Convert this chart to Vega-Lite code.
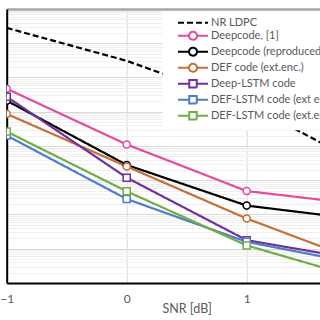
{
  "$schema": "https://vega.github.io/schema/vega-lite/v6.json",
  "autosize": {"type": "none"},
  "width": 313.3,
  "height": 274,
  "padding": {"left": 6.7, "top": 9, "right": 0, "bottom": 37},
  "background": "white",
  "config": {
    "view": {"stroke": null},
    "font": "Lato"
  },
  "data": {
    "values": [
      {"series": "NR LDPC", "snr": -1, "ber": 0.28},
      {"series": "NR LDPC", "snr": 0, "ber": 0.0307},
      {"series": "NR LDPC", "snr": 1, "ber": 0.00172},
      {"series": "NR LDPC", "snr": 2, "ber": 0.0000248},
      {"series": "Deepcode, [1]", "snr": -1, "ber": 0.00471},
      {"series": "Deepcode, [1]", "snr": 0, "ber": 0.000111},
      {"series": "Deepcode, [1]", "snr": 1, "ber": 0.00000484},
      {"series": "Deepcode, [1]", "snr": 2, "ber": 0.00000188},
      {"series": "Deepcode (reproduced)", "snr": -1, "ber": 0.00211},
      {"series": "Deepcode (reproduced)", "snr": 0, "ber": 0.000028},
      {"series": "Deepcode (reproduced)", "snr": 1, "ber": 0.00000182},
      {"series": "Deepcode (reproduced)", "snr": 2, "ber": 0.00000068},
      {"series": "DEF code (ext.enc.)", "snr": -1, "ber": 0.000865},
      {"series": "DEF code (ext.enc.)", "snr": 0, "ber": 0.0000253},
      {"series": "DEF code (ext.enc.)", "snr": 1, "ber": 0.000000762},
      {"series": "DEF code (ext.enc.)", "snr": 2, "ber": 0.0000000367},
      {"series": "Deep-LSTM code", "snr": -1, "ber": 0.00275},
      {"series": "Deep-LSTM code", "snr": 0, "ber": 0.0000119},
      {"series": "Deep-LSTM code", "snr": 1, "ber": 0.000000178},
      {"series": "Deep-LSTM code", "snr": 2, "ber": 0.0000000442},
      {"series": "DEF-LSTM code (ext enc.)", "snr": -1, "ber": 0.000202},
      {"series": "DEF-LSTM code (ext enc.)", "snr": 0, "ber": 0.00000283},
      {"series": "DEF-LSTM code (ext enc.)", "snr": 1, "ber": 0.000000159},
      {"series": "DEF-LSTM code (ext enc.)", "snr": 2, "ber": 0.0000000332},
      {"series": "DEF-LSTM code (ext.enc., opt.)", "snr": -1, "ber": 0.000264},
      {"series": "DEF-LSTM code (ext.enc., opt.)", "snr": 0, "ber": 0.00000475},
      {"series": "DEF-LSTM code (ext.enc., opt.)", "snr": 1, "ber": 0.000000125},
      {"series": "DEF-LSTM code (ext.enc., opt.)", "snr": 2, "ber": 0.000000012}
    ]
  },
  "encoding": {
    "x": {
      "field": "snr", "type": "quantitative",
      "scale": {"domain": [-1, 1.611], "nice": false, "zero": false},
      "axis": {
        "title": "SNR [dB]",
        "values": [-1, 0, 1],
        "format": "d",
        "grid": true,
        "gridColor": "#D9D9D9",
        "gridWidth": 1,
        "domainColor": "#000000",
        "domainWidth": 2,
        "ticks": false,
        "tickSize": 0,
        "labelPadding": 10,
        "labelFontSize": 12,
        "labelColor": "#595959",
        "labelFont": "Lato",
        "labelOverlap": false,
        "labelBound": false,
        "labelFlush": false,
        "titleX": 180,
        "titleY": 25,
        "titleBaseline": "middle",
        "titleFontSize": 12.5,
        "titleFontWeight": "normal",
        "titleColor": "#595959",
        "titleFont": "Lato"
      }
    },
    "y": {
      "field": "ber", "type": "quantitative",
      "scale": {"type": "log", "domain": [1e-8, 1], "nice": false},
      "axis": {
        "title": null,
        "labels": false,
        "ticks": false,
        "domainColor": "#000000",
        "domainWidth": 2,
        "grid": true,
        "values": [
          1e-8, 2e-8, 3e-8, 4e-8, 5e-8, 6e-8, 7e-8, 8e-8, 9e-8,
          1e-7, 2e-7, 3e-7, 4e-7, 5e-7, 6e-7, 7e-7, 8e-7, 9e-7,
          1e-6, 2e-6, 3e-6, 4e-6, 5e-6, 6e-6, 7e-6, 8e-6, 9e-6,
          1e-5, 2e-5, 3e-5, 4e-5, 5e-5, 6e-5, 7e-5, 8e-5, 9e-5,
          1e-4, 2e-4, 3e-4, 4e-4, 5e-4, 6e-4, 7e-4, 8e-4, 9e-4,
          0.001, 0.002, 0.003, 0.004, 0.005, 0.006, 0.007, 0.008, 0.009,
          0.01, 0.02, 0.03, 0.04, 0.05, 0.06, 0.07, 0.08, 0.09,
          0.1, 0.2, 0.3, 0.4, 0.5, 0.6, 0.7, 0.8, 0.9,
          1
        ],
        "gridColor": {
          "condition": [
            {"test": "datum.value >= 0.999", "value": "#A6A6A6"},
            {"test": "abs(log(datum.value) / LN10 - round(log(datum.value) / LN10)) < 0.001", "value": "#D9D9D9"}
          ],
          "value": "#F0F0F0"
        },
        "gridWidth": {
          "condition": {"test": "datum.value >= 0.999", "value": 2.5},
          "value": 1
        }
      }
    }
  },
  "layer": [
    {
      "mark": {"type": "line", "strokeWidth": 2.2, "clip": true},
      "encoding": {
        "color": {
          "field": "series", "type": "nominal", "sort": null,
          "scale": {
            "domain": ["NR LDPC", "Deepcode, [1]", "Deepcode (reproduced)", "DEF code (ext.enc.)", "Deep-LSTM code", "DEF-LSTM code (ext enc.)", "DEF-LSTM code (ext.enc., opt.)"],
            "range": ["#000000", "#E64A9C", "#000000", "#C86F34", "#7030A0", "#4F7CC8", "#70AD47"]
          },
          "legend": {
            "title": null,
            "orient": "none",
            "legendX": 155.3,
            "legendY": 1.7,
            "fillColor": "white",
            "strokeColor": "transparent",
            "padding": 6,
            "symbolOffset": 19,
            "symbolSize": 100,
            "symbolStrokeWidth": 2,
            "symbolFillColor": "white",
            "labelOffset": 12,
            "labelFontSize": 11,
            "labelFont": "Lato",
            "labelColor": "#595959",
            "labelLimit": 400,
            "rowPadding": 0,
            "encode": {
              "symbols": {
                "update": {
                  "shape": {"signal": "datum.value === 'NR LDPC' ? 'M-3,0H3' : (indexof(datum.value, 'LSTM') >= 0 ? 'M-3,0H-0.75M0.75,0H3M-0.75,-0.75H0.75V0.75H-0.75Z' : 'M-3,0H-0.8M0.8,0H3M0.8,0A0.8,0.8 0 1,1 -0.8,0A0.8,0.8 0 1,1 0.8,0Z')"},
                  "strokeDash": {"signal": "datum.value === 'NR LDPC' ? [4, 2] : [1, 0]"},
                  "fill": {"value": "white"},
                  "opacity": {"value": 1}
                }
              }
            }
          }
        },
        "strokeDash": {
          "field": "series", "type": "nominal", "sort": null,
          "scale": {
            "domain": ["NR LDPC", "Deepcode, [1]", "Deepcode (reproduced)", "DEF code (ext.enc.)", "Deep-LSTM code", "DEF-LSTM code (ext enc.)", "DEF-LSTM code (ext.enc., opt.)"],
            "range": [[6, 3], [1, 0], [1, 0], [1, 0], [1, 0], [1, 0], [1, 0]]
          },
          "legend": null
        }
      }
    },
    {
      "transform": [{"filter": "datum.series !== 'NR LDPC'"}],
      "mark": {"type": "point", "filled": false, "fill": "white", "fillOpacity": 1, "opacity": 1, "strokeWidth": 1.5, "size": 50, "clip": true},
      "encoding": {
        "color": {"field": "series", "type": "nominal", "sort": null},
        "shape": {
          "field": "series", "type": "nominal", "sort": null,
          "scale": {
            "domain": ["Deepcode, [1]", "Deepcode (reproduced)", "DEF code (ext.enc.)", "Deep-LSTM code", "DEF-LSTM code (ext enc.)", "DEF-LSTM code (ext.enc., opt.)"],
            "range": ["circle", "circle", "circle", "square", "square", "square"]
          },
          "legend": null
        }
      }
    }
  ]
}
